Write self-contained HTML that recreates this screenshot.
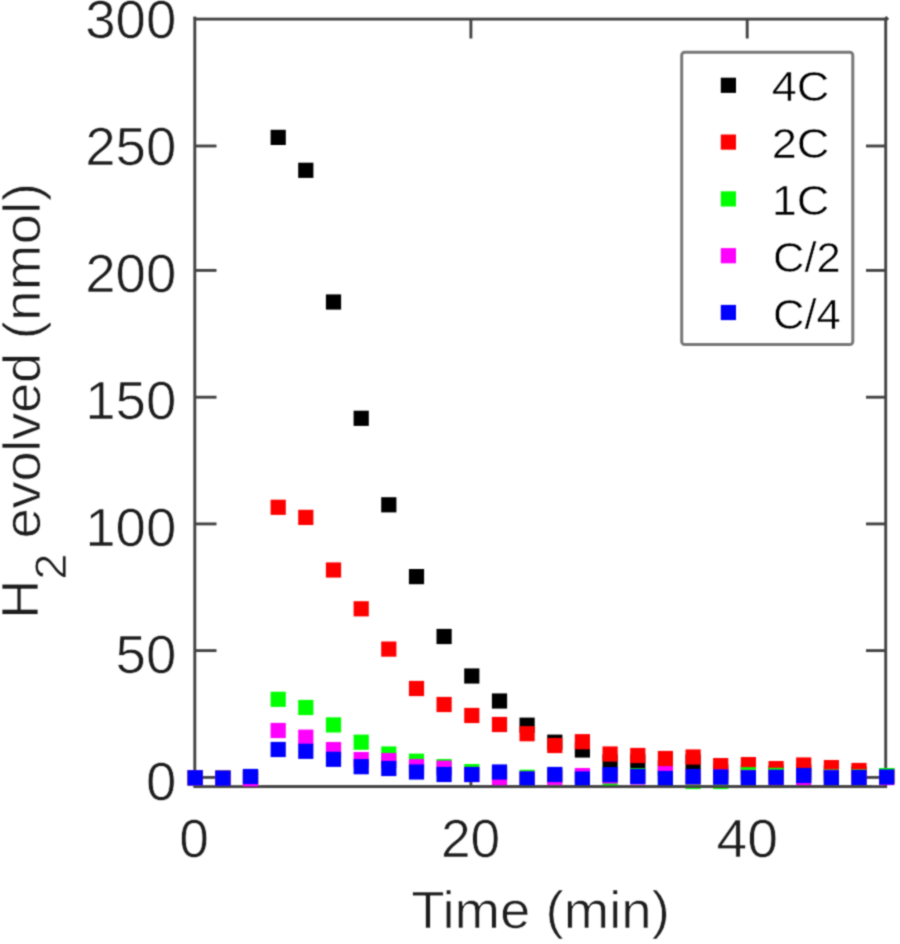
<!DOCTYPE html>
<html lang="en"><head><meta charset="utf-8"><title>H2 evolved vs time</title>
<style>html,body{margin:0;padding:0;background:#fff}body{width:900px;height:944px;overflow:hidden}svg{display:block}text{font-family:"Liberation Sans",sans-serif}</style></head><body>
<svg width="900" height="944" viewBox="0 0 900 944">
<defs><filter id="soft" filterUnits="userSpaceOnUse" x="0" y="0" width="900" height="944" color-interpolation-filters="sRGB"><feConvolveMatrix order="3" kernelMatrix="0.0400 0.1200 0.0400 0.1200 0.3600 0.1200 0.0400 0.1200 0.0400" edgeMode="duplicate" preserveAlpha="false"/></filter></defs>
<g filter="url(#soft)">
<rect width="900" height="944" fill="#fff"/>
<g stroke="#444444" stroke-width="2.9" fill="none" stroke-linecap="butt">
<rect x="194.8" y="19.1" width="690.9" height="767.5"/>
<line x1="194.8" y1="777.4" x2="216.5" y2="777.4"/>
<line x1="885.7" y1="777.4" x2="866.0" y2="777.4"/>
<line x1="194.8" y1="650.6" x2="216.5" y2="650.6"/>
<line x1="885.7" y1="650.6" x2="866.0" y2="650.6"/>
<line x1="194.8" y1="523.9" x2="216.5" y2="523.9"/>
<line x1="885.7" y1="523.9" x2="866.0" y2="523.9"/>
<line x1="194.8" y1="397.2" x2="216.5" y2="397.2"/>
<line x1="885.7" y1="397.2" x2="866.0" y2="397.2"/>
<line x1="194.8" y1="270.4" x2="216.5" y2="270.4"/>
<line x1="885.7" y1="270.4" x2="866.0" y2="270.4"/>
<line x1="194.8" y1="146.0" x2="216.5" y2="146.0"/>
<line x1="885.7" y1="146.0" x2="866.0" y2="146.0"/>
<line x1="470.9" y1="19.1" x2="470.9" y2="38.5"/>
<line x1="470.9" y1="786.6" x2="470.9" y2="767.2"/>
<line x1="747.2" y1="19.1" x2="747.2" y2="38.5"/>
<line x1="747.2" y1="786.6" x2="747.2" y2="767.2"/>
<line x1="194.8" y1="16.6" x2="194.8" y2="19.1"/>
<path d="M886.3 15.9 L889.2 18.8 L886.3 21.4 L883.6 18.8 Z" fill="#444444" stroke="none"/>
</g>
<g fill="#000000">
<rect x="187.6" y="770.2" width="15.2" height="15.2"/>
<rect x="215.3" y="770.6" width="15.2" height="15.2"/>
<rect x="242.9" y="769.8" width="15.2" height="15.2"/>
<rect x="270.6" y="129.8" width="15.2" height="15.2"/>
<rect x="298.2" y="162.7" width="15.2" height="15.2"/>
<rect x="325.9" y="294.4" width="15.2" height="15.2"/>
<rect x="353.6" y="410.7" width="15.2" height="15.2"/>
<rect x="381.2" y="497.2" width="15.2" height="15.2"/>
<rect x="408.9" y="569.0" width="15.2" height="15.2"/>
<rect x="436.5" y="628.9" width="15.2" height="15.2"/>
<rect x="464.2" y="668.4" width="15.2" height="15.2"/>
<rect x="491.9" y="693.4" width="15.2" height="15.2"/>
<rect x="519.5" y="717.6" width="15.2" height="15.2"/>
<rect x="547.2" y="734.6" width="15.2" height="15.2"/>
<rect x="574.8" y="742.4" width="15.2" height="15.2"/>
<rect x="602.5" y="754.4" width="15.2" height="15.2"/>
<rect x="630.2" y="754.4" width="15.2" height="15.2"/>
<rect x="657.8" y="760.4" width="15.2" height="15.2"/>
<rect x="685.5" y="754.4" width="15.2" height="15.2"/>
<rect x="713.1" y="764.4" width="15.2" height="15.2"/>
<rect x="740.8" y="764.4" width="15.2" height="15.2"/>
<rect x="768.5" y="765.4" width="15.2" height="15.2"/>
<rect x="796.1" y="764.4" width="15.2" height="15.2"/>
<rect x="823.8" y="765.4" width="15.2" height="15.2"/>
<rect x="851.4" y="766.4" width="15.2" height="15.2"/>
<rect x="879.1" y="768.4" width="15.2" height="15.2"/>
</g>
<g fill="#ff0000">
<rect x="187.6" y="770.2" width="15.2" height="15.2"/>
<rect x="215.3" y="770.6" width="15.2" height="15.2"/>
<rect x="242.9" y="769.8" width="15.2" height="15.2"/>
<rect x="270.6" y="499.7" width="15.2" height="15.2"/>
<rect x="298.2" y="509.8" width="15.2" height="15.2"/>
<rect x="325.9" y="562.4" width="15.2" height="15.2"/>
<rect x="353.6" y="601.2" width="15.2" height="15.2"/>
<rect x="381.2" y="641.5" width="15.2" height="15.2"/>
<rect x="408.9" y="680.9" width="15.2" height="15.2"/>
<rect x="436.5" y="696.9" width="15.2" height="15.2"/>
<rect x="464.2" y="707.9" width="15.2" height="15.2"/>
<rect x="491.9" y="716.9" width="15.2" height="15.2"/>
<rect x="519.5" y="726.1" width="15.2" height="15.2"/>
<rect x="547.2" y="737.9" width="15.2" height="15.2"/>
<rect x="574.8" y="734.1" width="15.2" height="15.2"/>
<rect x="602.5" y="746.4" width="15.2" height="15.2"/>
<rect x="630.2" y="747.9" width="15.2" height="15.2"/>
<rect x="657.8" y="750.9" width="15.2" height="15.2"/>
<rect x="685.5" y="749.4" width="15.2" height="15.2"/>
<rect x="713.1" y="758.0" width="15.2" height="15.2"/>
<rect x="740.8" y="757.0" width="15.2" height="15.2"/>
<rect x="768.5" y="761.0" width="15.2" height="15.2"/>
<rect x="796.1" y="757.4" width="15.2" height="15.2"/>
<rect x="823.8" y="760.0" width="15.2" height="15.2"/>
<rect x="851.4" y="762.9" width="15.2" height="15.2"/>
<rect x="879.1" y="768.4" width="15.2" height="15.2"/>
</g>
<g fill="#00ff00">
<rect x="187.6" y="770.2" width="15.2" height="15.2"/>
<rect x="215.3" y="770.6" width="15.2" height="15.2"/>
<rect x="242.9" y="769.8" width="15.2" height="15.2"/>
<rect x="270.6" y="691.7" width="15.2" height="15.2"/>
<rect x="298.2" y="699.9" width="15.2" height="15.2"/>
<rect x="325.9" y="717.3" width="15.2" height="15.2"/>
<rect x="353.6" y="734.6" width="15.2" height="15.2"/>
<rect x="381.2" y="746.4" width="15.2" height="15.2"/>
<rect x="408.9" y="753.6" width="15.2" height="15.2"/>
<rect x="436.5" y="759.0" width="15.2" height="15.2"/>
<rect x="464.2" y="764.0" width="15.2" height="15.2"/>
<rect x="491.9" y="766.4" width="15.2" height="15.2"/>
<rect x="519.5" y="769.7" width="15.2" height="15.2"/>
<rect x="547.2" y="768.4" width="15.2" height="15.2"/>
<rect x="574.8" y="769.4" width="15.2" height="15.2"/>
<rect x="602.5" y="770.7" width="15.2" height="15.2"/>
<rect x="630.2" y="768.1" width="15.2" height="15.2"/>
<rect x="657.8" y="769.4" width="15.2" height="15.2"/>
<rect x="685.5" y="773.9" width="15.2" height="15.2"/>
<rect x="713.1" y="773.9" width="15.2" height="15.2"/>
<rect x="740.8" y="767.2" width="15.2" height="15.2"/>
<rect x="768.5" y="767.8" width="15.2" height="15.2"/>
<rect x="796.1" y="768.4" width="15.2" height="15.2"/>
<rect x="823.8" y="769.4" width="15.2" height="15.2"/>
<rect x="851.4" y="769.4" width="15.2" height="15.2"/>
<rect x="879.1" y="768.0" width="15.2" height="15.2"/>
</g>
<g fill="#ff00ff">
<rect x="187.6" y="770.2" width="15.2" height="15.2"/>
<rect x="215.3" y="770.6" width="15.2" height="15.2"/>
<rect x="242.9" y="771.2" width="15.2" height="15.2"/>
<rect x="270.6" y="722.9" width="15.2" height="15.2"/>
<rect x="298.2" y="729.6" width="15.2" height="15.2"/>
<rect x="325.9" y="742.0" width="15.2" height="15.2"/>
<rect x="353.6" y="752.0" width="15.2" height="15.2"/>
<rect x="381.2" y="753.0" width="15.2" height="15.2"/>
<rect x="408.9" y="759.0" width="15.2" height="15.2"/>
<rect x="436.5" y="760.6" width="15.2" height="15.2"/>
<rect x="464.2" y="766.9" width="15.2" height="15.2"/>
<rect x="491.9" y="770.4" width="15.2" height="15.2"/>
<rect x="519.5" y="771.4" width="15.2" height="15.2"/>
<rect x="547.2" y="769.7" width="15.2" height="15.2"/>
<rect x="574.8" y="768.0" width="15.2" height="15.2"/>
<rect x="602.5" y="768.4" width="15.2" height="15.2"/>
<rect x="630.2" y="769.4" width="15.2" height="15.2"/>
<rect x="657.8" y="766.1" width="15.2" height="15.2"/>
<rect x="685.5" y="769.4" width="15.2" height="15.2"/>
<rect x="713.1" y="769.4" width="15.2" height="15.2"/>
<rect x="740.8" y="769.9" width="15.2" height="15.2"/>
<rect x="768.5" y="769.9" width="15.2" height="15.2"/>
<rect x="796.1" y="769.8" width="15.2" height="15.2"/>
<rect x="823.8" y="769.9" width="15.2" height="15.2"/>
<rect x="851.4" y="769.9" width="15.2" height="15.2"/>
<rect x="879.1" y="770.0" width="15.2" height="15.2"/>
</g>
<g fill="#0000ff">
<rect x="187.6" y="770.2" width="15.2" height="15.2"/>
<rect x="215.3" y="770.6" width="15.2" height="15.2"/>
<rect x="242.9" y="768.9" width="15.2" height="15.2"/>
<rect x="270.6" y="741.9" width="15.2" height="15.2"/>
<rect x="298.2" y="743.7" width="15.2" height="15.2"/>
<rect x="325.9" y="751.7" width="15.2" height="15.2"/>
<rect x="353.6" y="759.1" width="15.2" height="15.2"/>
<rect x="381.2" y="760.9" width="15.2" height="15.2"/>
<rect x="408.9" y="764.4" width="15.2" height="15.2"/>
<rect x="436.5" y="766.9" width="15.2" height="15.2"/>
<rect x="464.2" y="766.9" width="15.2" height="15.2"/>
<rect x="491.9" y="764.4" width="15.2" height="15.2"/>
<rect x="519.5" y="771.4" width="15.2" height="15.2"/>
<rect x="547.2" y="766.9" width="15.2" height="15.2"/>
<rect x="574.8" y="771.4" width="15.2" height="15.2"/>
<rect x="602.5" y="767.1" width="15.2" height="15.2"/>
<rect x="630.2" y="768.9" width="15.2" height="15.2"/>
<rect x="657.8" y="770.9" width="15.2" height="15.2"/>
<rect x="685.5" y="768.9" width="15.2" height="15.2"/>
<rect x="713.1" y="769.4" width="15.2" height="15.2"/>
<rect x="740.8" y="770.2" width="15.2" height="15.2"/>
<rect x="768.5" y="769.7" width="15.2" height="15.2"/>
<rect x="796.1" y="767.9" width="15.2" height="15.2"/>
<rect x="823.8" y="770.2" width="15.2" height="15.2"/>
<rect x="851.4" y="770.0" width="15.2" height="15.2"/>
<rect x="879.1" y="769.4" width="15.2" height="15.2"/>
</g>
<line x1="262" y1="786.6" x2="872" y2="786.6" stroke="#444444" stroke-width="2.9"/>
<g fill="#1e1e1e" stroke="#fff" stroke-width="0.7" stroke-linejoin="round" font-size="54.2" text-anchor="end">
<text transform="translate(176.3,799.7) scale(1.008,1)">0</text>
<text transform="translate(176.3,672.8) scale(1.008,1)">50</text>
<text transform="translate(176.3,545.9) scale(1.008,1)">100</text>
<text transform="translate(176.3,419.0) scale(1.008,1)">150</text>
<text transform="translate(176.3,292.1) scale(1.008,1)">200</text>
<text transform="translate(176.3,165.2) scale(1.008,1)">250</text>
<text transform="translate(176.3,38.3) scale(1.008,1)">300</text>
</g>
<g fill="#1e1e1e" stroke="#fff" stroke-width="0.7" stroke-linejoin="round" font-size="53.3" text-anchor="middle">
<text transform="translate(194.0,857.4) scale(1.0,1)">0</text>
<text transform="translate(470.6,857.4) scale(1.0,1)">20</text>
<text transform="translate(747.3,857.4) scale(1.04,1)">40</text>
</g>
<g fill="#1e1e1e" stroke="#fff" stroke-width="0.7" stroke-linejoin="round" font-size="51.5">
<text transform="translate(540.5,927.6) scale(1.06,1)" text-anchor="middle">Time (min)</text>
<text transform="translate(39.5,618.8) rotate(-90) scale(1.0535,1)" text-anchor="start"><tspan dy="-1.5">H</tspan><tspan font-size="45" dy="28">2</tspan><tspan dy="-26.5" letter-spacing="-0.22"> evolved </tspan><tspan dx="-1" letter-spacing="0.5">(nmol)</tspan></text>
</g>
<rect x="681.7" y="52.2" width="171.1" height="292.4" rx="3" fill="#fff" stroke="#787878" stroke-width="3"/>
<rect x="720.8" y="77.7" width="15.2" height="15.2" fill="#000000"/>
<text transform="translate(771.7,101.3) scale(1.065,1)" font-size="42.5" fill="#000" stroke="#fff" stroke-width="0.6">4C</text>
<rect x="720.8" y="134.5" width="15.2" height="15.2" fill="#ff0000"/>
<text transform="translate(771.7,158.1) scale(1.065,1)" font-size="42.5" fill="#000" stroke="#fff" stroke-width="0.6">2C</text>
<rect x="720.8" y="191.3" width="15.2" height="15.2" fill="#00ff00"/>
<text transform="translate(771.7,214.9) scale(1.065,1)" font-size="42.5" fill="#000" stroke="#fff" stroke-width="0.6">1C</text>
<rect x="720.8" y="248.1" width="15.2" height="15.2" fill="#ff00ff"/>
<text transform="translate(773.0,271.7) scale(1.025,1)" font-size="42.5" fill="#000" stroke="#fff" stroke-width="0.6">C/2</text>
<rect x="720.8" y="304.9" width="15.2" height="15.2" fill="#0000ff"/>
<text transform="translate(773.0,328.5) scale(1.025,1)" font-size="42.5" fill="#000" stroke="#fff" stroke-width="0.6">C/4</text>
</g></svg></body></html>
